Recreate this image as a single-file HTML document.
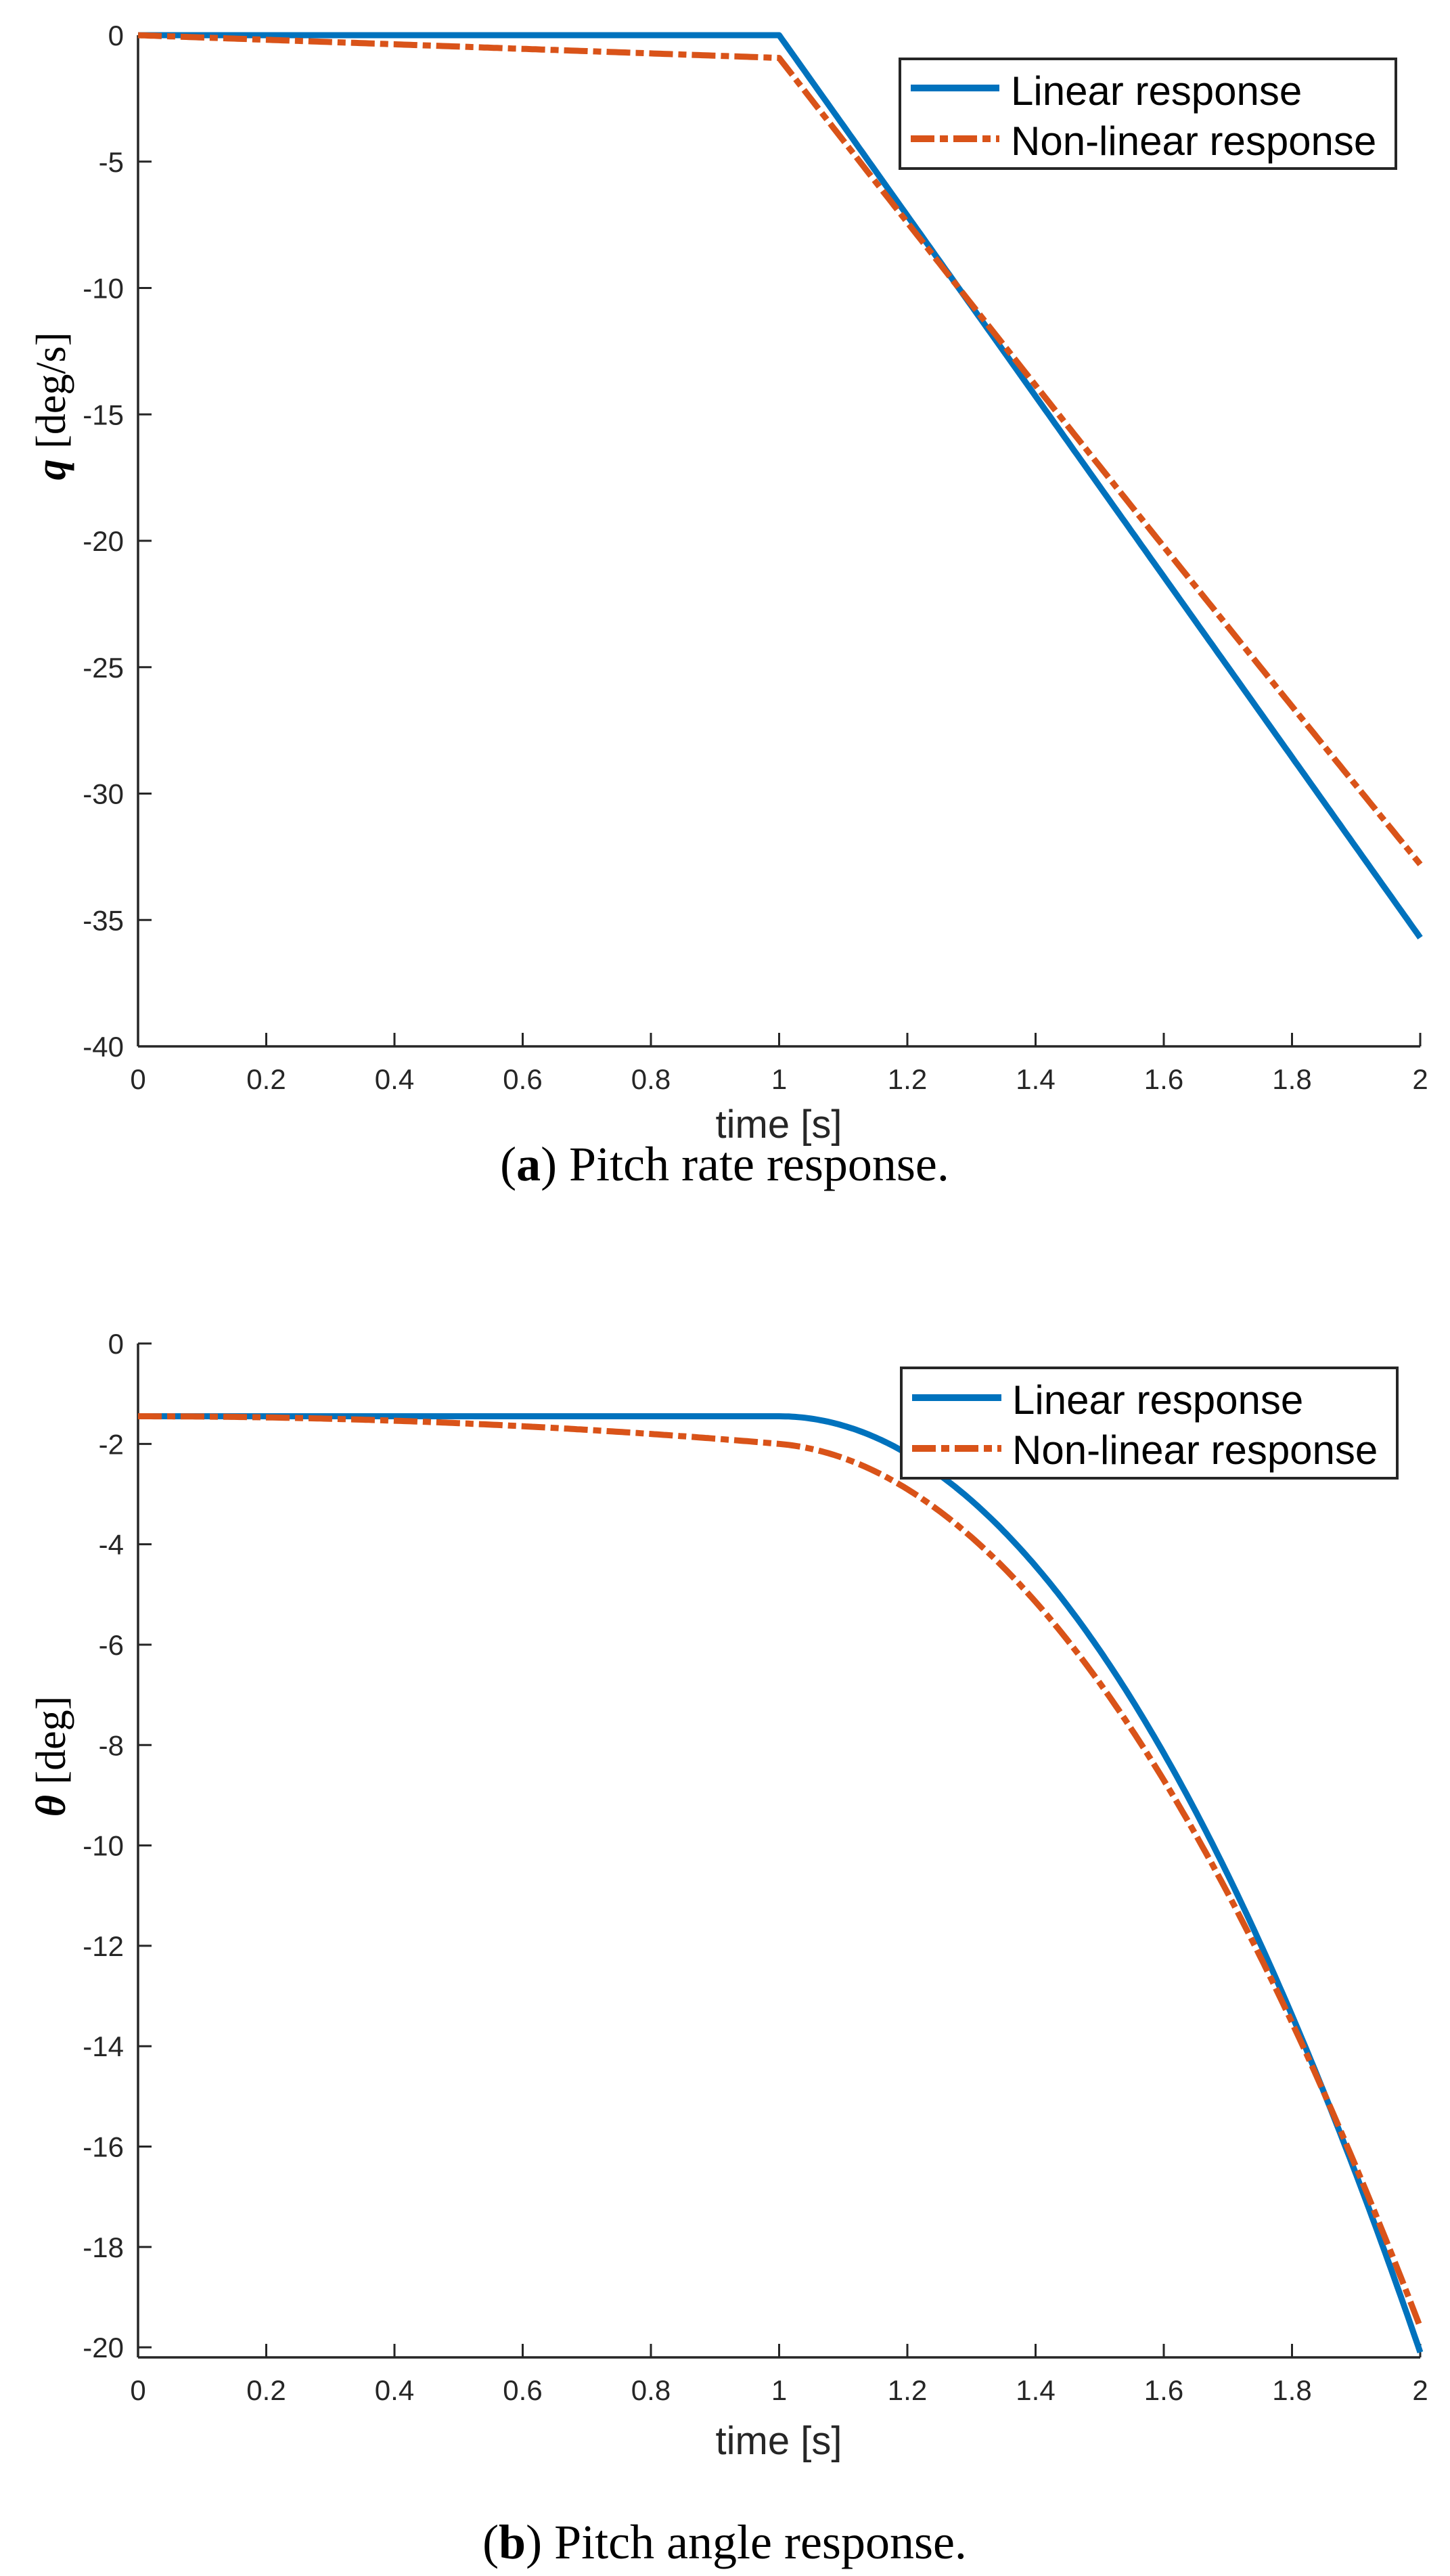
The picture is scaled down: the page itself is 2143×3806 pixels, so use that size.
<!DOCTYPE html>
<html><head><meta charset="utf-8">
<style>
html,body{margin:0;padding:0;background:#fff;}
svg{display:block;}
.tk{font-family:"Liberation Sans",sans-serif;font-size:42px;fill:#262626;}
.lg{font-family:"Liberation Sans",sans-serif;font-size:60px;fill:#000;}
.xl{font-family:"Liberation Sans",sans-serif;font-size:58px;fill:#262626;}
.cap{font-family:"Liberation Serif",serif;font-size:72px;fill:#000;}
.yl{font-family:"Liberation Serif",serif;font-size:62px;fill:#000;}
</style></head>
<body>
<svg id="s" width="2143" height="3806" viewBox="0 0 2143 3806" xmlns="http://www.w3.org/2000/svg">
<rect width="2143" height="3806" fill="#fff"/>
<g id="g"></g>
<g id="top">
<rect x="1330" y="87" width="733" height="162" fill="#fff" stroke="#262626" stroke-width="4"/>
<line x1="1346" y1="130" x2="1477" y2="130" stroke="#0072BD" stroke-width="10"/>
<line x1="1346" y1="205" x2="1477" y2="205" stroke="#D95319" stroke-width="10" stroke-dasharray="35 8 12 8"/>
<text class="lg" x="1494" y="155">Linear response</text>
<text class="lg" x="1494" y="229">Non-linear response</text>
<rect x="1332" y="2021" width="733" height="163" fill="#fff" stroke="#262626" stroke-width="4"/>
<line x1="1348" y1="2065" x2="1480" y2="2065" stroke="#0072BD" stroke-width="10"/>
<line x1="1348" y1="2140" x2="1480" y2="2140" stroke="#D95319" stroke-width="10" stroke-dasharray="35 8 12 8"/>
<text class="lg" x="1496" y="2089">Linear response</text>
<text class="lg" x="1496" y="2163">Non-linear response</text>
<text class="xl" x="1151" y="1681" text-anchor="middle">time [s]</text>
<text class="xl" x="1151" y="3626" text-anchor="middle">time [s]</text>
<text class="cap" x="1071" y="1744" text-anchor="middle">(<tspan font-weight="bold">a</tspan>) Pitch rate response.</text>
<text class="cap" x="1071" y="3780" text-anchor="middle">(<tspan font-weight="bold">b</tspan>) Pitch angle response.</text>
<text class="yl" transform="translate(96,600) rotate(-90)" text-anchor="middle"><tspan font-style="italic" font-weight="bold">q</tspan> [deg/s]</text>
<text class="yl" transform="translate(96,2595) rotate(-90)" text-anchor="middle"><tspan font-style="italic" font-weight="bold">θ</tspan> [deg]</text>
</g>
</svg>
<script>
(function(){
var g=document.getElementById('g'),NS='http://www.w3.org/2000/svg';
function el(n,a,t){var e=document.createElementNS(NS,n);for(var k in a)e.setAttribute(k,a[k]);if(t!=null)e.textContent=t;g.appendChild(e);return e;}
var X0=204,X1=2099;function X(t){return X0+(X1-X0)*t/2;}
function axes(top,bot,ymin,ymax,step,tickBase){
  function Y(v){return top+(ymax-v)/(ymax-ymin)*(bot-top);}
  el('line',{x1:X0,y1:top,x2:X0,y2:bot,stroke:'#262626','stroke-width':3.5});
  el('line',{x1:X0,y1:bot,x2:X1,y2:bot,stroke:'#262626','stroke-width':3.5});
  for(var i=0;i<=10;i++){var t=i*0.2,x=X(t);
    el('line',{x1:x,y1:bot,x2:x,y2:bot-20,stroke:'#262626','stroke-width':3});
    el('text',{'class':'tk',x:x,y:tickBase,'text-anchor':'middle'},(Math.round(t*10)/10).toString());}
  for(var v=ymax;v>=ymin-1e-9;v-=step){var y=Y(v);
    el('line',{x1:X0,y1:y,x2:X0+20,y2:y,stroke:'#262626','stroke-width':3});
    el('text',{'class':'tk',x:183,y:y+15,'text-anchor':'end'},String(Math.round(v)));}
  return Y;
}
function curve(Y,f,col,dash){var d='';for(var i=0;i<=400;i++){var t=i/200;d+=(i?'L':'M')+X(t).toFixed(1)+' '+Y(f(t)).toFixed(1);}
  var a={d:d,fill:'none',stroke:col,'stroke-width':9,'stroke-linejoin':'round'};if(dash)a['stroke-dasharray']=dash;return a;}
var Y1=axes(52,1546,-40,0,5,1609);
var Y2=axes(1985,3483,-20.2,0,2,3546);
el('path',curve(Y1,function(t){return t<=1?0:-35.7*(t-1);},'#0072BD'));
el('path',curve(Y1,function(t){if(t<=1)return -0.9*t;var s=t-1;return -0.9-32.7*s+0.8*s*s;},'#D95319','35 8 12 8'));
el('path',curve(Y2,function(t){if(t<=1)return -1.45;var s=t-1;return -1.45-18.65*s*s;},'#0072BD'));
el('path',curve(Y2,function(t){if(t<=1)return -1.45-0.55*t*t;var s=t-1;return -2.0-1.1*s-17.2*s*s+0.7*s*s*s;},'#D95319','35 8 12 8'));
})();
</script>
</body></html>
